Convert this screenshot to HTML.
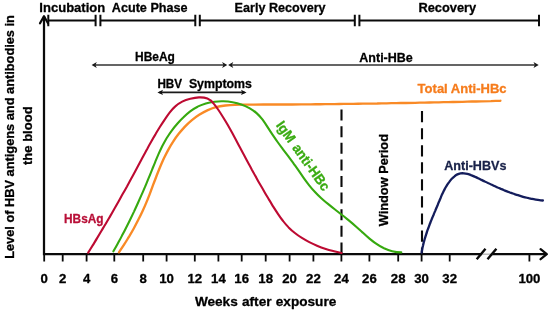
<!DOCTYPE html>
<html>
<head>
<meta charset="utf-8">
<title>HBV serological markers</title>
<style>
html,body{margin:0;padding:0;background:#fff;}
svg{display:block;filter:blur(0.3px);}
text{font-family:"Liberation Sans",sans-serif;font-weight:bold;fill:#000;stroke:#000;stroke-width:0.3px;stroke-linejoin:round;}
.lbl{font-size:13.6px;}
.ax{stroke:#0a0a0a;fill:none;}
</style>
</head>
<body>
<svg width="550" height="311" viewBox="0 0 550 311">
<rect width="550" height="311" fill="#ffffff"/>

<!-- phase bars -->
<g class="ax" stroke-width="2">
  <path d="M48.3 20.5H95.6M100.4 20.5H195.3M199.8 20.5H354.8M359.4 20.5H539"/>
  <path stroke-width="2" d="M48.3 14.8V26.2M95.6 14.8V26.2M100.4 14.8V26.2M195.3 14.8V26.2M199.8 14.8V26.2M354.8 14.8V26.2M359.4 14.8V26.2M539 14.8V26.2"/>
</g>
<text class="lbl" x="39.3" y="12.3" textLength="66" lengthAdjust="spacingAndGlyphs">Incubation</text>
<text class="lbl" x="111.8" y="12.3" textLength="75.8" lengthAdjust="spacingAndGlyphs">Acute Phase</text>
<text class="lbl" x="234.6" y="12.3" textLength="91" lengthAdjust="spacingAndGlyphs">Early Recovery</text>
<text class="lbl" x="418.4" y="12.3" textLength="57.8" lengthAdjust="spacingAndGlyphs">Recovery</text>

<!-- axes -->
<g class="ax" stroke-width="2.25">
  <path d="M44 16.2V254.2H546"/>
  <path d="M40 23.2L44 16.2L48 23.2" stroke-linejoin="round" stroke-linecap="round"/>
  <path d="M540.6 249.2L546.8 254.2L540.6 259.2" stroke-linejoin="round" stroke-linecap="round"/>
</g>
<!-- axis break -->
<rect x="482" y="252" width="10" height="4.4" fill="#fff"/>
<path d="M481 254.2H493" stroke="#b8b8b8" stroke-width="1.4"/>
<g class="ax" stroke-width="2.4">
  <path d="M476.7 259.2L485.5 248.8M487.5 259.2L496.4 248.8"/>
</g>
<!-- ticks -->
<g class="ax" stroke-width="1.8">
  <path d="M44.2 254V261.6M62.7 254V261.6M86.6 254V261.6M114.3 254V261.6M143.2 254V261.6M166.6 254V261.6M194.8 254V261.6M218.4 254V261.6M241.7 254V261.6M265.7 254V261.6M289.6 254V261.6M313.4 254V261.6M341.4 254V261.6M369.4 254V261.6M398.2 254V261.6M421.6 254V261.6M449.7 254V261.6M529.4 254V261.6"/>
</g>
<g class="lbl" text-anchor="middle" style="font-size:13.2px">
  <text x="44.2" y="282.6">0</text>
  <text x="62.7" y="282.6">2</text>
  <text x="86.6" y="282.6">4</text>
  <text x="114.3" y="282.6">6</text>
  <text x="143.2" y="282.6">8</text>
  <text x="166.6" y="282.6">10</text>
  <text x="194.8" y="282.6">12</text>
  <text x="218.4" y="282.6">14</text>
  <text x="241.7" y="282.6">16</text>
  <text x="265.7" y="282.6">18</text>
  <text x="289.6" y="282.6">20</text>
  <text x="313.4" y="282.6">22</text>
  <text x="341.4" y="282.6">24</text>
  <text x="369.4" y="282.6">26</text>
  <text x="398.2" y="282.6">28</text>
  <text x="421.6" y="282.6">30</text>
  <text x="449.7" y="282.6">32</text>
  <text x="529.4" y="282.6">100</text>
</g>
<text class="lbl" x="194.9" y="305.8" style="font-size:13.4px;word-spacing:0.5px" textLength="141.4" lengthAdjust="spacingAndGlyphs">Weeks after exposure</text>

<!-- y label -->
<text class="lbl" transform="translate(14 258.8) rotate(-90)" style="font-size:12.8px" textLength="243.7" lengthAdjust="spacingAndGlyphs">Level of HBV antigens and antibodies in</text>
<text class="lbl" transform="translate(32 165) rotate(-90)" style="font-size:12.8px" textLength="58.6" lengthAdjust="spacingAndGlyphs">the blood</text>

<!-- HBeAg / Anti-HBe arrows -->
<g stroke="#333" fill="none" stroke-width="1.35">
  <path d="M93.5 65H225.5M230 65H536.5"/>
</g>
<g fill="#1a1a1a" stroke="none">
  <path d="M91.6 65L96.8 62L95.4 65L96.8 68Z"/>
  <path d="M227.3 65L222.1 62L223.5 65L222.1 68Z"/>
  <path d="M228.1 65L233.3 62L231.9 65L233.3 68Z"/>
  <path d="M538.7 65L533.5 62L534.9 65L533.5 68Z"/>
</g>
<text class="lbl" x="135" y="61.1" textLength="39.9" lengthAdjust="spacingAndGlyphs">HBeAg</text>
<text class="lbl" x="359.3" y="61.8" textLength="53.5" lengthAdjust="spacingAndGlyphs">Anti-HBe</text>

<!-- HBV Symptoms -->
<text class="lbl" x="157.4" y="87.6" style="font-size:13px" textLength="24.6" lengthAdjust="spacingAndGlyphs">HBV</text>
<text class="lbl" x="188.9" y="87.6" style="font-size:13px" textLength="63" lengthAdjust="spacingAndGlyphs">Symptoms</text>
<g stroke="#1a1a1a" fill="none" stroke-width="1.7">
  <path d="M159.5 92.4H244.5"/>
</g>
<g fill="#111" stroke="none">
  <path d="M157.4 92.4L163 89.7L161.8 92.4L163 95.1Z"/>
  <path d="M246.6 92.4L241 89.7L242.2 92.4L241 95.1Z"/>
</g>

<!-- dashed lines -->
<g class="ax" stroke-width="2.1">
  <path d="M341.5 109.6V254" stroke-dasharray="11 5.6"/>
  <path d="M422 111.1V254" stroke-dasharray="11.2 5.85"/>
</g>
<text class="lbl" transform="translate(387.9 226.3) rotate(-90)" style="font-size:12.8px" textLength="92.3" lengthAdjust="spacingAndGlyphs">Window Period</text>

<!-- curves -->
<g fill="none" stroke-width="2.1" stroke-linecap="round" stroke-linejoin="round">
  <!-- orange total anti-HBc -->
  <path stroke="#f98a26" stroke-width="2.35" d="M118.9 252.3C120.7 249.7 122.5 247.1 124.2 244.4C125.9 241.8 127.5 239.1 129.2 236.4C130.8 233.7 132.4 230.9 133.9 228.2C135.4 225.4 136.9 222.6 138.3 219.8C139.8 217.0 141.2 214.1 142.5 211.3C143.8 208.4 145.1 205.5 146.3 202.6C147.5 199.7 148.7 196.7 149.8 193.8C150.9 190.8 152.0 187.8 153.1 184.9C154.3 181.9 155.4 179.0 156.5 176.0C157.6 173.1 158.8 170.1 160.0 167.2C161.2 164.3 162.5 161.4 163.8 158.5C165.2 155.7 166.6 152.9 168.1 150.1C169.6 147.3 171.2 144.6 173.0 141.9C174.7 139.2 176.5 136.6 178.5 134.1C180.5 131.6 182.6 129.2 184.7 126.9C186.9 124.6 189.2 122.4 191.6 120.4C194.0 118.4 196.5 116.5 199.2 114.8C201.8 113.2 204.5 111.7 207.3 110.4C210.1 109.1 213.0 108.0 216.0 107.2C219.0 106.4 222.2 105.9 225.3 105.5C228.5 105.2 231.7 105.0 234.9 104.9C238.2 104.7 241.4 104.7 244.6 104.6C247.7 104.6 250.9 104.6 254.1 104.6C257.2 104.5 260.4 104.5 263.5 104.5C266.7 104.6 269.9 104.5 273.0 104.5C276.2 104.5 279.3 104.5 282.5 104.5C285.6 104.5 288.8 104.5 291.9 104.5C295.1 104.4 298.2 104.4 301.4 104.4C304.6 104.4 307.7 104.3 310.9 104.3C314.0 104.3 317.2 104.2 320.3 104.2C323.5 104.2 326.6 104.1 329.8 104.1C333.0 104.1 336.1 104.0 339.3 104.0C342.4 104.0 345.6 103.9 348.7 103.9C351.9 103.8 355.1 103.8 358.2 103.7C361.4 103.7 364.5 103.6 367.7 103.6C370.9 103.6 374.0 103.5 377.2 103.5C380.3 103.4 383.5 103.4 386.7 103.3C389.8 103.2 393.0 103.2 396.1 103.1C399.3 103.1 402.5 103.0 405.6 103.0C408.8 102.9 411.9 102.8 415.1 102.8C418.3 102.7 421.4 102.7 424.6 102.6C427.7 102.5 430.9 102.5 434.1 102.4C437.2 102.3 440.4 102.3 443.5 102.2C446.7 102.1 449.9 102.1 453.0 102.0C456.2 101.9 459.3 101.8 462.5 101.8C465.7 101.7 468.8 101.6 472.0 101.5C475.1 101.5 478.3 101.4 481.5 101.3C484.6 101.2 487.8 101.1 490.9 101.1C494.1 101.0 497.2 100.9 500.4 100.8"/>
  <!-- green IgM -->
  <path stroke="#36a90f" d="M113.4 251.3C114.9 248.7 116.4 246.1 117.8 243.5C119.2 240.9 120.7 238.3 122.0 235.6C123.4 233.0 124.8 230.4 126.1 227.7C127.5 225.0 128.8 222.4 130.1 219.7C131.4 217.0 132.7 214.3 134.0 211.6C135.2 209.0 136.5 206.3 137.7 203.5C138.9 200.8 140.1 198.1 141.3 195.4C142.5 192.7 143.7 189.9 144.9 187.2C146.0 184.4 147.2 181.7 148.3 178.9C149.5 176.2 150.6 173.4 151.7 170.6C152.8 167.9 153.9 165.1 155.1 162.3C156.2 159.6 157.3 156.8 158.5 154.1C159.7 151.4 161.0 148.7 162.3 146.0C163.7 143.4 165.1 140.8 166.6 138.2C168.2 135.7 169.8 133.2 171.6 130.8C173.4 128.4 175.3 126.1 177.3 123.8C179.2 121.6 181.3 119.4 183.5 117.3C185.6 115.2 187.8 113.2 190.2 111.4C192.5 109.6 195.0 108.0 197.6 106.7C200.2 105.3 203.0 104.3 205.8 103.4C208.7 102.6 211.6 102.1 214.6 101.7C217.6 101.3 220.6 101.2 223.6 101.3C226.6 101.4 229.6 101.7 232.5 102.2C235.5 102.8 238.4 103.5 241.2 104.5C244.1 105.5 246.8 106.7 249.4 108.1C252.0 109.6 254.4 111.2 256.6 113.1C258.8 115.1 260.8 117.3 262.6 119.6C264.3 122.0 266.0 124.5 267.6 127.1C269.2 129.6 270.8 132.1 272.5 134.6C274.2 137.1 275.9 139.6 277.6 142.0C279.3 144.4 281.1 146.8 282.8 149.1C284.6 151.5 286.4 153.8 288.2 156.2C289.9 158.6 291.7 160.9 293.5 163.3C295.2 165.7 296.9 168.2 298.7 170.6C300.4 173.1 302.1 175.6 303.8 178.1C305.5 180.5 307.3 182.9 309.2 185.3C311.0 187.6 313.0 189.9 315.0 192.0C317.0 194.2 319.1 196.2 321.3 198.2C323.5 200.2 325.7 202.1 328.0 203.9C330.3 205.8 332.6 207.7 335.0 209.5C337.3 211.3 339.7 213.2 342.0 215.0C344.4 216.8 346.7 218.7 349.1 220.6C351.4 222.5 353.7 224.5 355.9 226.5C358.2 228.5 360.4 230.6 362.7 232.6C364.9 234.7 367.2 236.7 369.5 238.6C371.8 240.5 374.1 242.3 376.5 243.9C378.9 245.6 381.4 247.0 384.0 248.3C386.7 249.5 389.4 250.5 392.2 251.2C395.1 252.0 398.1 252.4 401.3 252.4"/>
  <!-- red HBsAg -->
  <path stroke="#bd0a32" d="M88.2 252.6C89.7 250.2 91.2 247.8 92.7 245.4C94.2 242.9 95.7 240.5 97.1 238.1C98.6 235.7 100.1 233.2 101.5 230.8C103.0 228.3 104.4 225.9 105.9 223.5C107.3 221.0 108.8 218.5 110.2 216.1C111.6 213.6 113.0 211.2 114.4 208.7C115.9 206.2 117.3 203.8 118.7 201.3C120.1 198.8 121.4 196.3 122.8 193.8C124.2 191.4 125.6 188.9 127.0 186.4C128.3 183.9 129.7 181.4 131.0 178.9C132.4 176.4 133.8 173.9 135.1 171.4C136.4 168.9 137.8 166.4 139.1 163.9C140.4 161.4 141.8 158.9 143.1 156.4C144.5 153.9 145.8 151.4 147.2 148.9C148.5 146.4 149.9 143.9 151.3 141.5C152.7 139.0 154.1 136.5 155.6 134.1C157.0 131.6 158.5 129.2 160.0 126.8C161.5 124.4 163.1 122.0 164.7 119.6C166.3 117.2 167.9 114.8 169.6 112.6C171.4 110.3 173.2 108.2 175.3 106.4C177.4 104.5 179.6 102.9 182.2 101.6C184.7 100.4 187.5 99.5 190.3 98.8C193.1 98.1 196.0 97.5 198.9 97.4C201.8 97.3 204.8 97.5 207.4 98.5C210.0 99.5 212.0 101.5 213.7 103.7C215.5 105.9 217.2 108.2 218.8 110.5C220.4 112.9 221.9 115.3 223.4 117.7C224.9 120.1 226.4 122.5 227.8 125.0C229.2 127.5 230.6 130.0 232.0 132.5C233.3 135.0 234.7 137.5 236.0 140.0C237.3 142.5 238.6 145.0 240.0 147.6C241.3 150.1 242.6 152.6 244.0 155.1C245.3 157.6 246.6 160.1 248.0 162.6C249.3 165.0 250.7 167.5 252.0 170.0C253.4 172.5 254.8 175.0 256.2 177.4C257.5 179.9 258.9 182.4 260.3 184.8C261.8 187.3 263.2 189.7 264.6 192.2C266.0 194.7 267.5 197.1 269.0 199.6C270.4 202.0 271.9 204.4 273.4 206.9C274.9 209.3 276.5 211.7 278.1 214.1C279.7 216.5 281.3 218.8 283.1 221.0C284.8 223.3 286.7 225.4 288.6 227.4C290.6 229.4 292.7 231.3 294.9 233.0C297.1 234.8 299.5 236.4 301.9 237.9C304.3 239.4 306.7 240.8 309.3 242.1C311.8 243.4 314.4 244.6 317.0 245.7C319.7 246.8 322.3 247.8 325.0 248.7C327.7 249.6 330.5 250.4 333.2 251.1C336.0 251.8 338.7 252.5 341.5 253.0"/>
  <!-- blue anti-HBs -->
  <path stroke="#141d5c" stroke-width="2.3" d="M421.6 252.5C421.8 251.3 422.0 250.1 422.3 248.9C422.5 247.7 422.8 246.5 423.1 245.3C423.3 244.1 423.6 243.0 423.9 241.8C424.3 240.6 424.6 239.4 424.9 238.3C425.3 237.1 425.6 236.0 426.0 234.8C426.4 233.7 426.8 232.5 427.1 231.4C427.5 230.3 427.9 229.1 428.4 228.0C428.8 226.8 429.2 225.7 429.6 224.6C430.1 223.5 430.5 222.3 430.9 221.2C431.4 220.1 431.8 219.0 432.3 217.8C432.8 216.7 433.2 215.6 433.7 214.5C434.1 213.4 434.6 212.3 435.1 211.1C435.5 210.0 436.0 208.9 436.5 207.8C436.9 206.7 437.4 205.5 437.9 204.4C438.3 203.3 438.8 202.2 439.3 201.0C439.7 199.9 440.2 198.8 440.7 197.7C441.2 196.5 441.6 195.4 442.1 194.3C442.6 193.2 443.2 192.1 443.7 191.0C444.3 189.9 444.8 188.9 445.4 187.8C446.0 186.7 446.7 185.7 447.3 184.7C448.0 183.6 448.7 182.6 449.5 181.6C450.2 180.6 451.0 179.7 451.8 178.8C452.7 177.9 453.6 177.0 454.5 176.3C455.4 175.5 456.4 174.9 457.4 174.4C458.4 173.9 459.5 173.6 460.5 173.4C461.6 173.2 462.8 173.2 463.9 173.3C465.1 173.4 466.2 173.6 467.4 173.9C468.6 174.2 469.8 174.6 471.0 175.1C472.2 175.5 473.4 176.0 474.6 176.6C475.8 177.1 476.9 177.7 478.1 178.2C479.3 178.8 480.4 179.3 481.5 179.9C482.6 180.4 483.7 180.9 484.8 181.5C485.9 182.0 487.0 182.5 488.0 183.0C489.1 183.5 490.2 184.0 491.2 184.5C492.3 185.0 493.3 185.5 494.4 186.0C495.5 186.5 496.5 187.0 497.6 187.5C498.7 187.9 499.8 188.4 500.9 188.9C502.0 189.3 503.1 189.8 504.2 190.3C505.4 190.7 506.5 191.2 507.6 191.6C508.8 192.0 509.9 192.5 511.1 192.9C512.2 193.3 513.4 193.7 514.5 194.1C515.7 194.5 516.9 194.9 518.0 195.2C519.2 195.6 520.4 196.0 521.6 196.3C522.7 196.7 523.9 197.0 525.1 197.3C526.3 197.6 527.5 197.9 528.7 198.2C529.9 198.4 531.0 198.7 532.2 198.9C533.4 199.2 534.6 199.4 535.8 199.6C537.0 199.8 538.2 200.0 539.4 200.1C540.5 200.3 541.7 200.4 542.9 200.5"/>
</g>

<!-- curve labels -->
<text class="lbl" x="64" y="223.4" style="fill:#b80f37;stroke:#b80f37;font-size:12.9px" textLength="39.6" lengthAdjust="spacingAndGlyphs">HBsAg</text>
<text class="lbl" x="417.6" y="93.3" style="fill:#f67c1c;stroke:#f67c1c;font-size:13.3px" textLength="89" lengthAdjust="spacingAndGlyphs">Total Anti-HBc</text>
<text class="lbl" x="444.2" y="170" style="fill:#182148;stroke:#182148;font-size:13.3px" textLength="62.2" lengthAdjust="spacingAndGlyphs">Anti-HBVs</text>
<text class="lbl" transform="translate(275.5 125.2) rotate(54.6)" style="fill:#3aab12;stroke:#3aab12;font-size:14px;word-spacing:1.6px" textLength="82" lengthAdjust="spacingAndGlyphs">IgM anti-HBc</text>
</svg>
</body>
</html>
